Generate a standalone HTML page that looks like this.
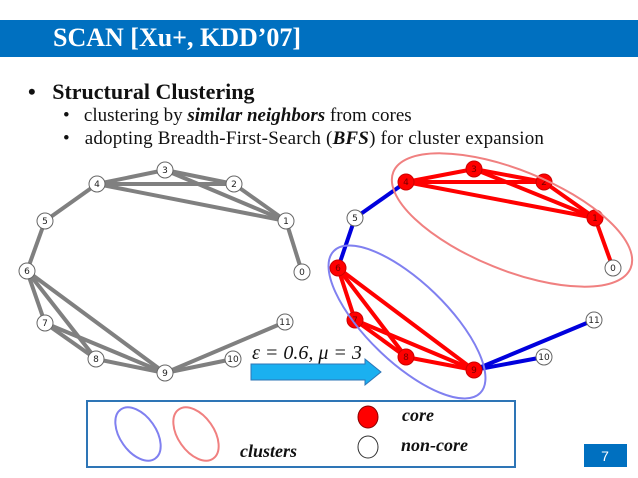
<!DOCTYPE html>
<html><head><meta charset="utf-8"><style>
body{margin:0;width:638px;height:478px;background:#fff;overflow:hidden;position:relative;font-family:"Liberation Serif",serif}
.bar{position:absolute;left:0;top:20px;width:638px;height:37px;background:#0070c0}
.t{position:absolute;color:#fff;font-weight:bold;font-size:26px;left:53px;top:21px;line-height:34px;white-space:nowrap}
.b{position:absolute;white-space:nowrap;color:#111}
</style></head><body>
<div class="bar"></div><div class="t">SCAN [Xu+, KDD’07]</div>
<div class="b" style="left:28px;top:79px;font-size:22px;font-weight:bold">•&nbsp;&nbsp;&nbsp;Structural Clustering</div>
<div class="b" style="left:63px;top:105px;font-size:19px">•&nbsp;&nbsp;&nbsp;clustering by <b><i>similar neighbors</i></b> from cores</div>
<div class="b" style="left:63px;top:128px;font-size:19px;letter-spacing:0.2px">•&nbsp;&nbsp;&nbsp;adopting Breadth-First-Search (<b><i>BFS</i></b>) for cluster expansion</div>
<svg width="638" height="478" style="position:absolute;left:0;top:0" font-family="DejaVu Sans, sans-serif">
<g stroke="#808080" stroke-width="4">
<line x1="302" y1="272" x2="286" y2="221"/><line x1="286" y1="221" x2="234" y2="184"/><line x1="286" y1="221" x2="165" y2="170"/><line x1="286" y1="221" x2="97" y2="184"/><line x1="234" y1="184" x2="165" y2="170"/><line x1="234" y1="184" x2="97" y2="184"/><line x1="165" y1="170" x2="97" y2="184"/><line x1="97" y1="184" x2="45" y2="221"/><line x1="45" y1="221" x2="27" y2="271"/><line x1="27" y1="271" x2="45" y2="323"/><line x1="27" y1="271" x2="96" y2="359"/><line x1="27" y1="271" x2="165" y2="373"/><line x1="45" y1="323" x2="96" y2="359"/><line x1="45" y1="323" x2="165" y2="373"/><line x1="96" y1="359" x2="165" y2="373"/><line x1="165" y1="373" x2="233" y2="359"/><line x1="165" y1="373" x2="285" y2="322"/>
</g>
<g fill="#fff" stroke="#666" stroke-width="1" >
<circle cx="165" cy="170" r="8"/><circle cx="97" cy="184" r="8"/><circle cx="234" cy="184" r="8"/><circle cx="45" cy="221" r="8"/><circle cx="286" cy="221" r="8"/><circle cx="27" cy="271" r="8"/><circle cx="302" cy="272" r="8"/><circle cx="45" cy="323" r="8"/><circle cx="285" cy="322" r="8"/><circle cx="96" cy="359" r="8"/><circle cx="233" cy="359" r="8"/><circle cx="165" cy="373" r="8"/>
</g>
<g font-size="9" text-anchor="middle" fill="#222">
<text x="165" y="173">3</text><text x="97" y="187">4</text><text x="234" y="187">2</text><text x="45" y="224">5</text><text x="286" y="224">1</text><text x="27" y="274">6</text><text x="302" y="275">0</text><text x="45" y="326">7</text><text x="285" y="325">11</text><text x="96" y="362">8</text><text x="233" y="362">10</text><text x="165" y="376">9</text>
</g>
<g stroke="#f00" stroke-width="4">
<line x1="613" y1="268" x2="595" y2="218"/><line x1="595" y1="218" x2="544" y2="182"/><line x1="595" y1="218" x2="474" y2="169"/><line x1="595" y1="218" x2="406" y2="182"/><line x1="544" y1="182" x2="474" y2="169"/><line x1="544" y1="182" x2="406" y2="182"/><line x1="474" y1="169" x2="406" y2="182"/><line x1="338" y1="268" x2="355" y2="320"/><line x1="338" y1="268" x2="406" y2="357"/><line x1="338" y1="268" x2="474" y2="370"/><line x1="355" y1="320" x2="406" y2="357"/><line x1="355" y1="320" x2="474" y2="370"/><line x1="406" y1="357" x2="474" y2="370"/>
</g>
<g stroke="#0000dd" stroke-width="4">
<line x1="406" y1="182" x2="355" y2="218"/><line x1="355" y1="218" x2="338" y2="268"/><line x1="474" y1="370" x2="544" y2="357"/><line x1="474" y1="370" x2="594" y2="320"/>
</g>
<g fill="#f00" stroke="#c00" stroke-width="1">
<circle cx="474" cy="169" r="8"/><circle cx="406" cy="182" r="8"/><circle cx="544" cy="182" r="8"/><circle cx="595" cy="218" r="8"/><circle cx="338" cy="268" r="8"/><circle cx="355" cy="320" r="8"/><circle cx="406" cy="357" r="8"/><circle cx="474" cy="370" r="8"/>
</g>
<g fill="#fff" stroke="#666" stroke-width="1">
<circle cx="355" cy="218" r="8"/><circle cx="613" cy="268" r="8"/><circle cx="594" cy="320" r="8"/><circle cx="544" cy="357" r="8"/>
</g>
<g font-size="9" text-anchor="middle" fill="#222">
<text x="355" y="221">5</text><text x="613" y="271">0</text><text x="594" y="323">11</text><text x="544" y="360">10</text>
</g>
<g font-size="9" text-anchor="middle" fill="#700">
<text x="474" y="172">3</text><text x="406" y="185">4</text><text x="544" y="185">2</text><text x="595" y="221">1</text><text x="338" y="271">6</text><text x="355" y="323">7</text><text x="406" y="360">8</text><text x="474" y="373">9</text>
</g>
<ellipse cx="512" cy="220" rx="128" ry="50" transform="rotate(22 512 220)" fill="none" stroke="#f08080" stroke-width="2"/>
<ellipse cx="407" cy="322" rx="102" ry="40" transform="rotate(44 407 322)" fill="none" stroke="#8080f0" stroke-width="2"/>
<path d="M251,364 H365 V359 L381,372 L365,385 V380 H251 Z" fill="#1ab0f0" stroke="#2e75b6" stroke-width="1"/>
<text x="252" y="359" font-family="Liberation Serif, serif" font-size="20" font-style="italic" fill="#111">ε = 0.6, μ = 3</text>
<rect x="87" y="401" width="428" height="66" fill="none" stroke="#2e75b6" stroke-width="2"/>
<ellipse cx="138" cy="434" rx="18" ry="30" transform="rotate(-35 138 434)" fill="none" stroke="#8080f0" stroke-width="2"/>
<ellipse cx="196" cy="434" rx="18" ry="30" transform="rotate(-35 196 434)" fill="none" stroke="#f08080" stroke-width="2"/>
<text x="240" y="457" font-family="Liberation Serif, serif" font-size="18" font-weight="bold" font-style="italic" fill="#111">clusters</text>
<ellipse cx="368" cy="417" rx="10" ry="11" fill="#f00" stroke="#800" stroke-width="1"/>
<ellipse cx="368" cy="447" rx="10" ry="11" fill="#fff" stroke="#333" stroke-width="1"/>
<text x="402" y="421" font-family="Liberation Serif, serif" font-size="18" font-weight="bold" font-style="italic" fill="#111">core</text>
<text x="401" y="451" font-family="Liberation Serif, serif" font-size="18" font-weight="bold" font-style="italic" fill="#111">non-core</text>
<rect x="584" y="444" width="43" height="23" fill="#0070c0"/>
<text x="605" y="461" text-anchor="middle" font-family="Liberation Sans, sans-serif" font-size="14" fill="#fff">7</text>
</svg>
</body></html>
